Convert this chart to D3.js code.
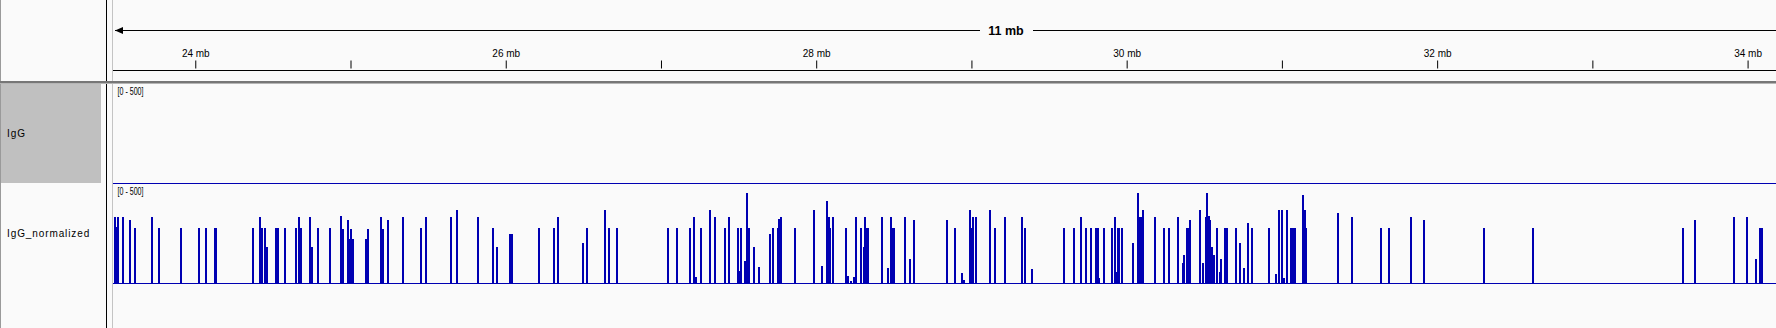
<!DOCTYPE html>
<html>
<head>
<meta charset="utf-8">
<script src="https://cdn.jsdelivr.net/npm/d3@7/dist/d3.min.js"></script>
<style>
html, body { margin: 0; padding: 0; background: #fafafa; }
svg { display: block; font-family: "Liberation Sans", Arial, sans-serif; }
</style>
</head>
<body>
<svg id="igv"></svg>
<script>
/* eslint-env browser */
/* global d3 */

// data
var trackNames = ["IgG", "IgG_normalized"];
var dataRange = [0, 500];
var viewKb = [23470, 34183];
var tickMb = [24, 25, 26, 27, 28, 29, 30, 31, 32, 33, 34];
var labelMb = [24, 26, 28, 30, 32, 34];
var spanLabel = "11 mb";
var binKb = 10.5;
var igGStarts = [];
var igGValues = [];
var normStarts = [23476, 23487, 23498, 23530, 23573, 23605, 23715, 23760, 23902, 24018,
    24063, 24121, 24130, 24365, 24410, 24421, 24443, 24454, 24514, 24524,
    24572, 24642, 24662, 24673, 24733, 24743, 24784, 24861, 24932, 24943,
    24977, 24988, 24997, 25008, 25093, 25104, 25190, 25201, 25235, 25332,
    25448, 25480, 25641, 25680, 25815, 25911, 25935, 26021, 26032, 26208,
    26304, 26330, 26491, 26517, 26633, 26659, 26710, 27039, 27097, 27180,
    27206, 27217, 27251, 27309, 27341, 27406, 27432, 27490, 27500, 27509,
    27535, 27546, 27558, 27593, 27625, 27696, 27715, 27747, 27756, 27765,
    27857, 27979, 28031, 28063, 28074, 28082, 28101, 28185, 28196, 28217,
    28237, 28248, 28282, 28299, 28306, 28316, 28327, 28417, 28456, 28475,
    28486, 28496, 28565, 28598, 28623, 28836, 28887, 28933, 28943, 28984,
    28995, 29003, 29023, 29113, 29145, 29210, 29319, 29338, 29383, 29590,
    29654, 29699, 29731, 29763, 29796, 29807, 29813, 29847, 29899, 29918,
    29929, 29935, 29946, 29963, 30034, 30066, 30077, 30087, 30098, 30176,
    30234, 30266, 30324, 30356, 30363, 30382, 30393, 30399, 30466, 30485,
    30504, 30511, 30522, 30532, 30541, 30549, 30558, 30575, 30594, 30601,
    30627, 30638, 30697, 30723, 30749, 30775, 30801, 30910, 30955, 30974,
    30994, 31005, 31026, 31052, 31063, 31078, 31129, 31140, 31146, 31354,
    31445, 31631, 31683, 31825, 31908, 32295, 32611, 33577, 33654, 33905,
    33989, 34047, 34073, 34084];
var normValues = [330, 280, 330, 330, 315, 275, 330, 275, 275, 275,
    275, 275, 275, 275, 330, 275, 275, 180, 275, 275,
    275, 275, 330, 275, 330, 180, 275, 275, 335, 270,
    315, 220, 270, 220, 220, 270, 330, 270, 315, 330,
    275, 330, 330, 365, 330, 275, 180, 245, 245, 275,
    275, 330, 200, 275, 365, 275, 275, 275, 275, 275,
    330, 30, 275, 365, 330, 275, 330, 275, 60, 275,
    110, 450, 275, 180, 80, 245, 275, 275, 320, 330,
    275, 365, 85, 410, 330, 275, 330, 275, 35, 10,
    30, 330, 275, 180, 330, 275, 275, 330, 75, 330,
    275, 275, 330, 120, 315, 315, 275, 50, 15, 365,
    275, 330, 330, 365, 275, 330, 330, 275, 70, 275,
    275, 330, 275, 275, 275, 275, 25, 275, 275, 330,
    55, 275, 275, 275, 200, 450, 330, 330, 365, 330,
    275, 275, 330, 100, 140, 275, 275, 315, 365, 100,
    330, 450, 335, 315, 180, 140, 140, 275, 55, 120,
    275, 275, 275, 200, 75, 300, 275, 275, 45, 365,
    365, 25, 365, 275, 275, 275, 440, 365, 275, 350,
    330, 275, 275, 330, 315, 275, 275, 275, 315, 330,
    330, 120, 275, 275];

var IGV = IGV || {};
IGV.ViewManager = function (svgEl) {

    var that = {},
        width = 1776,
        height = 328,
        nameWidth = 106,
        dataLeft = 113,
        rulerBottom = 82,
        trackTop = 83,
        trackHeight = 100,
        barColor = "rgb(0,0,178)",
        xs = d3.scaleLinear().domain(viewKb).range([dataLeft, width]),
        svg = d3.select(svgEl).attr("width", width).attr("height", height);

    function drawFrame() {
        svg.append("rect").attr("width", width).attr("height", height).attr("fill", "#fafafa");
        // selected track name
        svg.append("rect").attr("x", 1).attr("y", trackTop).attr("width", 100).attr("height", trackHeight).attr("fill", "#c0c0c0");
        svg.append("line").attr("x1", 0.5).attr("x2", 0.5).attr("y1", 0).attr("y2", height).attr("stroke", "#9a9a9a");
        svg.append("line").attr("x1", nameWidth + 0.5).attr("x2", nameWidth + 0.5).attr("y1", 0).attr("y2", height).attr("stroke", "#000");
        svg.append("line").attr("x1", dataLeft - 0.5).attr("x2", dataLeft - 0.5).attr("y1", 0).attr("y2", height).attr("stroke", "#c4c4c4");
        svg.append("line").attr("x1", 0).attr("x2", width).attr("y1", rulerBottom).attr("y2", rulerBottom).attr("stroke", "#777").attr("stroke-width", 2);
        svg.append("line").attr("x1", 0).attr("x2", width).attr("y1", rulerBottom + 1.5).attr("y2", rulerBottom + 1.5).attr("stroke", "#b5b5b5");
    }

    function drawRuler() {
        var g = svg.append("g"),
            labelX = 1006,
            y = 30.5;
        g.append("path").attr("d", "M" + (dataLeft + 2) + "," + y + "l8,-3.5v7z").attr("fill", "#000");
        g.append("line").attr("x1", dataLeft + 2).attr("x2", labelX - 26).attr("y1", y).attr("y2", y).attr("stroke", "#000");
        g.append("line").attr("x1", labelX + 27).attr("x2", width).attr("y1", y).attr("y2", y).attr("stroke", "#000");
        g.append("text").attr("x", labelX).attr("y", 34.5).attr("text-anchor", "middle")
            .attr("font-size", "12.5px").attr("font-weight", "bold").attr("fill", "#000").text(spanLabel);

        var axis = d3.axisTop(xs)
            .tickValues(tickMb.map(function (d) { return d * 1000; }))
            .tickSize(8)
            .tickSizeOuter(0)
            .tickFormat(function (d) { return labelMb.indexOf(d / 1000) >= 0 ? (d / 1000) + " mb" : ""; });
        var a = g.append("g").attr("transform", "translate(0,70)").call(axis);
        a.select(".domain").attr("stroke", "#000").attr("d", "M" + dataLeft + ",0.5H" + width);
        a.selectAll(".tick line").attr("stroke", "#000").attr("transform", "translate(0,-1.5)");
        a.selectAll(".tick text").attr("font-size", "10px").attr("font-family", "Liberation Sans, Arial, sans-serif")
            .attr("fill", "#000").attr("y", -13.5);
    }

    function drawTrack(i, starts, values) {
        var top = trackTop + i * trackHeight,
            ys = d3.scaleLinear().domain(dataRange).range([top + trackHeight, top]),
            g = svg.append("g");

        g.append("text").attr("x", 7).attr("y", top + trackHeight / 2 + 4).attr("font-size", "10px")
            .attr("letter-spacing", "0.9px").attr("fill", "#000").text(trackNames[i]);
        g.append("text").attr("x", dataLeft + 4.5).attr("y", top + 12).attr("font-size", "10px")
            .attr("textLength", 26).attr("lengthAdjust", "spacingAndGlyphs").attr("fill", "#000")
            .text("[" + dataRange[0] + " - " + dataRange[1] + "]");

        g.selectAll("rect.bin").data(starts).enter().append("rect").attr("class", "bin")
            .attr("x", function (d) { return Math.round(xs(d)); })
            .attr("width", function (d) { return Math.max(2, Math.round(xs(d + binKb) - xs(d))); })
            .attr("y", function (d, j) { return Math.round(ys(values[j])); })
            .attr("height", function (d, j) { return Math.round(ys(0)) - Math.round(ys(values[j])); })
            .attr("fill", barColor).attr("shape-rendering", "crispEdges");

        g.append("line").attr("x1", dataLeft).attr("x2", width)
            .attr("y1", Math.round(ys(0)) + 0.5).attr("y2", Math.round(ys(0)) + 0.5)
            .attr("stroke", barColor);
    }

    function render() {
        drawFrame();
        drawRuler();
        drawTrack(0, igGStarts, igGValues);
        drawTrack(1, normStarts, normValues);
    }

    that.render = render;
    return that;
};

IGV.ViewManager(document.getElementById("igv")).render();
</script>
</body>
</html>
